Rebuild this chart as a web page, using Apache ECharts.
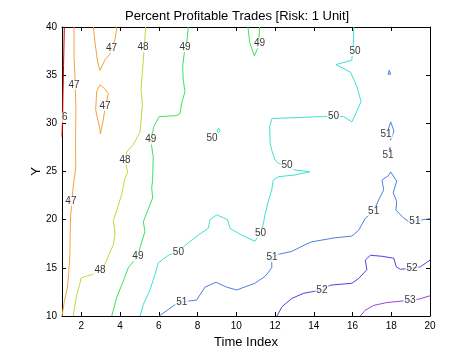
<!DOCTYPE html>
<html>
<head>
<meta charset="utf-8">
<script src="https://cdn.jsdelivr.net/npm/echarts@6/dist/echarts.min.js"></script>
<style>html,body{margin:0;padding:0;background:#fff}#c{width:474px;height:355px}</style>
</head>
<body>
<div id="c"></div>
<script>
// ---- data (contour paths in data coordinates) ----
const titleText = 'Percent Profitable Trades [Risk: 1 Unit]';
const xTicks = [2, 4, 6, 8, 10, 12, 14, 16, 18, 20];
const yTicks = [10, 15, 20, 25, 30, 35, 40];

const c46 = [[1.12,40],[1.08,36],[1.05,33],[1.03,30.5],[1.0,28.6]];
const c47a = [[1.62,40],[1.62,37],[1.66,35.3],[1.72,31.5],[1.70,28],[1.71,25.4],[1.58,23.5],[1.52,21.9],[1.45,20.5],[1.42,18.5],[1.41,16.5],[1.35,14.5],[1.28,13],[1.12,11.5],[1.0,10]];
const c47b = [[2.62,40],[2.70,38.45],[2.84,36.4],[2.96,35.5],[3.22,36.6],[3.48,37.2],[3.74,38.75],[3.82,39.8],[3.8,40]];
const c47c = [[2.96,34.0],[3.2,33.6],[3.39,33.1],[3.3,32.2],[3.22,31.5],[3.1,30],[2.98,28.9],[2.95,29.5],[2.82,30.6],[2.74,31.4],[2.79,33.3],[2.96,34.0]];
const c48 = [[5.32,40],[5.25,37.9],[5.15,35.3],[5.08,33.6],[5.15,31.9],[5.03,29.1],[4.68,27.8],[4.34,27.0],[4.25,26.2],[4.39,24.9],[4.25,24.3],[4.08,22.6],[3.82,20.9],[3.65,19.9],[3.74,18.6],[3.65,17.4],[3.39,16.2],[3.2,15.3],[2.96,14.7],[2.53,14.3],[1.98,13.95],[1.93,13.4],[1.76,12.2],[1.64,10.8],[1.58,10]];
const c49a = [[7.52,40],[7.44,38.35],[7.35,37.9],[7.23,35.9],[7.26,34.5],[7.35,33.3],[7.18,32.1],[7.09,31.0],[6.92,30.8],[6.02,30.7],[5.75,29.7],[5.58,28.3],[5.71,26.5],[5.68,24.1],[5.63,23.3],[5.68,22.25],[5.20,19.8],[5.28,18.75],[5.03,17.1],[4.91,16.2],[4.42,15.0],[4.16,13.6],[3.82,11.9],[3.57,10]];
const c49b = [[10.6,40],[10.69,38.4],[10.93,37.0],[11.15,38.0],[11.2,40]];
const c50a = [[9.0,29.2],[9.08,29.5],[9.16,29.25],[9.08,29.0],[9.0,29.2]];
const c50b = [[16.07,40],[16.04,38.1],[15.96,36.55],[15.15,36.1],[15.9,35.3],[16.23,33.8],[16.44,32.25],[15.97,30.15],[15.54,30.7],[15.03,30.7],[14.51,30.7],[11.84,30.5],[11.72,29.65],[11.75,27.9],[11.83,27.2],[12.0,26.2],[12.17,25.86],[13.03,25.16],[13.8,24.98],[13.03,24.64],[12.17,24.46],[11.91,24.12],[11.83,23.1],[11.65,21.9],[11.48,20.5],[11.39,19.5],[11.22,18.6],[10.96,17.75],[10.28,18.4],[9.67,19.1],[9.55,20.0],[8.99,20.5],[8.64,20.0],[8.55,19.1],[8.04,18.4],[7.52,17.6],[7.0,16.7],[6.49,16.3],[5.97,15.5],[5.80,14.3],[5.54,12.7],[5.20,11.2],[5.03,10]];
const c51a = [[6.02,10],[6.92,11.3],[7.18,11.4],[7.52,11.55],[7.95,11.65],[8.38,13.0],[8.95,13.5],[9.5,13.0],[10.02,12.7],[10.96,13.4],[11.48,14.1],[11.83,15.0],[11.83,16.1],[12.17,16.4],[12.86,16.7],[13.55,17.4],[13.9,17.7],[15.03,18.1],[15.97,18.3],[16.32,18.9],[16.66,20.15],[17.09,20.9],[17.35,22.05],[17.61,23.1],[17.52,24.1],[17.87,24.6],[17.97,24.95],[18.28,24.0],[18.1,22.8],[18.28,21.9],[18.24,21.0],[18.62,20.2],[18.97,19.7],[19.22,19.85],[19.65,20.0],[20,20.1]];
const c51b = [[17.9,35.5],[17.97,35.1],[17.9,34.95],[17.83,35.1],[17.9,35.5]];
const c51c = [[17.97,30.15],[18.14,29.2],[17.97,28.25],[17.82,29.2],[17.97,30.15]];
const c51d = [[17.88,27.1],[17.93,27.5],[17.98,27.1]];
const c52 = [[12.1,10],[12.36,10.97],[12.88,11.84],[13.48,12.36],[14.42,12.7],[14.85,13.2],[15.97,13.4],[16.32,13.9],[16.74,14.8],[16.66,15.8],[16.92,16.3],[17.52,16.2],[18.13,16.0],[18.26,15.1],[18.47,14.85],[19.07,14.95],[19.5,15.1],[20,15.8]];
const c53 = [[16.4,10],[16.66,10.6],[17.09,11.1],[17.78,11.4],[18.55,11.55],[18.98,11.65],[19.42,11.75],[20,12.1]];

const levels = [46, 47, 48, 49, 50, 51, 52, 53];
const levelColors = ['#c80000', '#f5a23c', '#b4e03c', '#3ee05a', '#3ee0d2', '#4a80e0', '#5a3ee0', '#a040e0'];
const contourPaths = [
  [46, c46], [47, c47a], [47, c47b], [47, c47c], [48, c48],
  [49, c49a], [49, c49b], [50, c50a], [50, c50b],
  [51, c51a], [51, c51b], [51, c51c], [51, c51d], [52, c52], [53, c53]
];

const labelX = [1.15, 1.62, 3.56, 3.22, 1.46, 5.18, 4.25, 2.96, 7.35, 5.58, 4.92, 11.2, 8.75, 16.13, 15.02, 12.62, 11.25, 7.01, 7.18, 11.84, 17.09, 19.22, 17.73, 17.83, 14.42, 19.07, 18.97];
const labelY = [30.6, 34.0, 37.8, 31.8, 21.9, 37.9, 26.2, 14.7, 37.9, 28.3, 16.2, 38.3, 28.5, 37.5, 30.7, 25.6, 18.6, 16.6, 11.45, 16.1, 20.9, 19.8, 28.9, 26.7, 12.7, 14.95, 11.65];
const labelText = ['6', '47', '47', '47', '47', '48', '48', '48', '49', '49', '49', '49', '50', '50', '50', '50', '50', '50', '51', '51', '51', '51', '51', '51', '52', '52', '53'];

// ---- chart ----
const chart = echarts.init(document.getElementById('c'), null, {renderer: 'canvas'});
const FONT = 'Liberation Sans, Arial, Helvetica, sans-serif';
const colorOf = lv => levelColors[levels.indexOf(lv)];

const series = contourPaths.map(([lv, pts]) => ({
  type: 'line', data: pts, showSymbol: false, symbol: 'none', silent: true,
  lineStyle: {color: colorOf(lv), width: 1}, z: 2, clip: true
}));
series.push({
  type: 'scatter', silent: true, z: 5, symbolSize: 1, itemStyle: {color: 'rgba(0,0,0,0)'},
  data: labelX.map((x, i) => ({value: [x, labelY[i]], name: labelText[i]})),
  label: {show: true, position: 'inside', formatter: p => p.name, color: '#000',
    fontSize: 10, fontFamily: FONT, backgroundColor: '#fff', padding: [0, 1]}
});

const axisCommon = {
  axisLine: {show: true, onZero: false, lineStyle: {color: '#000', width: 1}},
  splitLine: {show: false},
};

chart.setOption({
  animation: false,
  backgroundColor: '#fff',
  title: {text: titleText, left: 120, top: 5,
    textStyle: {fontFamily: FONT, fontSize: 13, fontWeight: 'normal', color: '#000'}},
  grid: {left: 62, right: 44, top: 27, bottom: 39},
  xAxis: [
    Object.assign({type: 'value', min: 1, max: 20, position: 'bottom',
      name: 'Time Index', nameLocation: 'middle', nameGap: 19,
      nameTextStyle: {fontFamily: FONT, fontSize: 13, color: '#000'},
      axisTick: {show: true, inside: true, length: 4, customValues: xTicks, lineStyle: {color: '#000'}},
      axisLabel: {show: true, customValues: xTicks, fontFamily: FONT, fontSize: 10, color: '#000', margin: 5}
    }, axisCommon),
    Object.assign({type: 'value', min: 1, max: 20, position: 'top',
      axisTick: {show: true, inside: true, length: 4, customValues: xTicks, lineStyle: {color: '#000'}},
      axisLabel: {show: false}
    }, axisCommon)
  ],
  yAxis: [
    Object.assign({type: 'value', min: 10, max: 40, position: 'left',
      name: 'Y', nameLocation: 'middle', nameGap: 19, nameRotate: 90, nameMoveOverlap: false,
      nameTextStyle: {fontFamily: FONT, fontSize: 13, color: '#000'},
      axisTick: {show: true, inside: true, length: 4, customValues: yTicks, lineStyle: {color: '#000'}},
      axisLabel: {show: true, customValues: yTicks, fontFamily: FONT, fontSize: 10, color: '#000', margin: 5}
    }, axisCommon),
    Object.assign({type: 'value', min: 10, max: 40, position: 'right',
      axisTick: {show: true, inside: true, length: 4, customValues: yTicks, lineStyle: {color: '#000'}},
      axisLabel: {show: false}
    }, axisCommon)
  ],
  series: series
});
</script>
</body>
</html>
